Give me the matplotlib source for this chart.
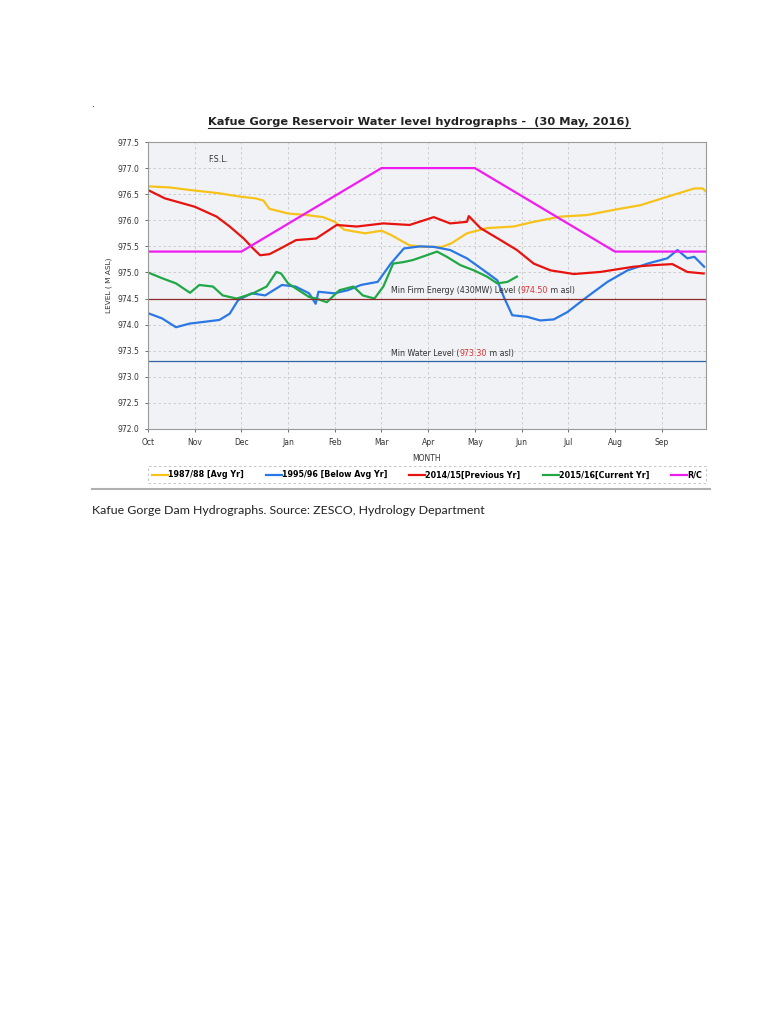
import numpy as np
import matplotlib
matplotlib.use("Agg")
import matplotlib.pyplot as plt
from matplotlib.lines import Line2D

# month index: 0 = Oct ... 11 = Sep
months = ["Oct", "Nov", "Dec", "Jan", "Feb", "Mar", "Apr", "May", "Jun", "Jul", "Aug", "Sep"]
levels = [972.0, 972.5, 973.0, 973.5, 974.0, 974.5, 975.0, 975.5, 976.0, 976.5, 977.0, 977.5]

avg_x = [0.0, 0.45, 0.9, 1.5, 2.0, 2.3, 2.47, 2.6, 3.0, 3.4, 3.75, 4.0, 4.2, 4.45, 4.65, 5.0, 5.2,
         5.4, 5.6, 5.9, 6.3, 6.5, 6.83, 7.26, 7.83, 8.26, 8.83, 9.4, 9.98, 10.55, 11.12, 11.7, 11.88, 11.95]
avg_y = [976.65, 976.63, 976.58, 976.52, 976.45, 976.42, 976.38, 976.22, 976.13, 976.1, 976.06, 975.97,
         975.82, 975.78, 975.75, 975.8, 975.72, 975.62, 975.52, 975.49, 975.49, 975.56, 975.75, 975.85,
         975.88, 975.97, 976.07, 976.1, 976.2, 976.29, 976.45, 976.61, 976.61, 976.55]

below_x = [0.0, 0.3, 0.6, 0.89, 1.17, 1.53, 1.75, 1.93, 2.22, 2.51, 2.87, 3.16, 3.45, 3.59, 3.65, 3.99,
           4.28, 4.56, 4.92, 5.2, 5.48, 5.83, 6.12, 6.47, 6.83, 7.19, 7.48, 7.62, 7.8, 8.12, 8.4, 8.69,
           8.98, 9.4, 9.84, 10.27, 10.7, 11.12, 11.34, 11.55, 11.7, 11.91]
below_y = [974.22, 974.12, 973.95, 974.02, 974.05, 974.09, 974.21, 974.47, 974.6, 974.56, 974.76, 974.73,
           974.6, 974.4, 974.63, 974.6, 974.66, 974.76, 974.82, 975.17, 975.46, 975.5, 975.49, 975.43,
           975.27, 975.04, 974.85, 974.53, 974.18, 974.15, 974.08, 974.1, 974.24, 974.53, 974.82, 975.04,
           975.17, 975.27, 975.43, 975.27, 975.3, 975.11]

prev_x = [0.0, 0.36, 1.0, 1.47, 1.75, 2.05, 2.25, 2.4, 2.6, 2.88, 3.17, 3.6, 4.04, 4.47, 5.04, 5.6,
          6.12, 6.47, 6.83, 6.87, 7.12, 7.55, 7.9, 8.26, 8.62, 9.12, 9.69, 10.4, 10.83, 11.23, 11.55, 11.9]
prev_y = [976.58, 976.42, 976.26, 976.07, 975.88, 975.65, 975.46, 975.33, 975.35, 975.48, 975.62, 975.65,
          975.91, 975.88, 975.94, 975.91, 976.06, 975.94, 975.97, 976.08, 975.85, 975.62, 975.43, 975.17,
          975.04, 974.97, 975.01, 975.11, 975.14, 975.16, 975.01, 974.98]

cur_x = [0.0, 0.3, 0.6, 0.9, 1.1, 1.39, 1.6, 1.9, 2.25, 2.54, 2.75, 2.85, 3.0, 3.45, 3.6, 3.83, 4.1,
         4.4, 4.6, 4.85, 5.04, 5.25, 5.48, 5.68, 5.97, 6.19, 6.4, 6.69, 6.98, 7.26, 7.48, 7.7, 7.9]
cur_y = [975.0, 974.89, 974.79, 974.61, 974.76, 974.73, 974.56, 974.5, 974.6, 974.73, 975.01, 974.98,
         974.79, 974.53, 974.5, 974.43, 974.66, 974.73, 974.56, 974.5, 974.73, 975.17, 975.2, 975.24,
         975.33, 975.4, 975.3, 975.14, 975.04, 974.92, 974.79, 974.82, 974.92]

rc_x = [0.0, 2.0, 5.0, 7.0, 10.0, 11.95]
rc_y = [975.4, 975.4, 977.0, 977.0, 975.4, 975.4]

firm_energy = 974.50
min_water = 973.30

fig = plt.figure(figsize=(7.68, 10.24), dpi=100)
ax = fig.add_axes([148 / 768, 1 - 429 / 1024, 558 / 768, 287 / 1024])
ax.set_facecolor("#f1f2f6")

ax.plot(avg_x, avg_y, color="#f7c21a", lw=1.6, label="1987/88 [Avg Yr]")
ax.plot(below_x, below_y, color="#2a78e4", lw=1.6, label="1995/96 [Below Avg Yr]")
ax.plot(prev_x, prev_y, color="#e8130f", lw=1.6, label="2014/15[Previous Yr]")
ax.plot(cur_x, cur_y, color="#1fa845", lw=1.6, label="2015/16[Current Yr]")
ax.plot(rc_x, rc_y, color="#f01cf0", lw=1.6, label="R/C")

ax.axhline(firm_energy, color="#8c2a2a", lw=0.9)
ax.axhline(min_water, color="#2f63a8", lw=0.9)

fs = 5.7
t1 = ax.text(5.2, firm_energy + 0.06, "Min Firm Energy (430MW) Level (", fontsize=fs, color="#333333", va="bottom")
t2 = ax.annotate(f"{firm_energy:.2f}", xy=(1, 0), xycoords=t1, va="bottom", fontsize=fs, color="#e03030")
ax.annotate(" m asl)", xy=(1, 0), xycoords=t2, va="bottom", fontsize=fs, color="#333333")
t3 = ax.text(5.2, min_water + 0.06, "Min Water Level (", fontsize=fs, color="#333333", va="bottom")
t4 = ax.annotate(f"{min_water:.2f}", xy=(1, 0), xycoords=t3, va="bottom", fontsize=fs, color="#e03030")
ax.annotate(" m asl)", xy=(1, 0), xycoords=t4, va="bottom", fontsize=fs, color="#333333")

ax.text(1.3, 977.16, "F.S.L.", fontsize=5.7, color="#333333", va="center")

ax.set_xlim(0, 11.95)
ax.set_ylim(972.0, 977.5)
ax.set_xticks(range(len(months)))
ax.set_xticklabels(months)
ax.set_yticks(levels)
ax.set_yticklabels([f"{v:.1f}" for v in levels])
ax.tick_params(labelsize=5.5, colors="#555555", length=2.5, width=0.6, labelcolor="#333333", pad=4)
ax.grid(True, color="#c8c8c8", ls=(0, (3, 3)), lw=0.6)
for s in ax.spines.values():
    s.set_color("#9a9a9a")
    s.set_linewidth(0.8)

ax.set_xlabel("MONTH", fontsize=5.5, color="#333333", labelpad=5)
ax.set_ylabel("LEVEL ( M ASL)", fontsize=5.3, color="#333333", labelpad=4)

leg = ax.legend(loc="center", bbox_to_anchor=(0, -0.19, 1, 0.06), mode="expand", ncol=5,
                prop={"weight": "bold", "size": 5.8}, handlelength=2.0, handletextpad=0.0,
                frameon=True, fancybox=False, borderaxespad=0, borderpad=0.5)
leg.get_frame().set_edgecolor("#aaaaaa")
leg.get_frame().set_linestyle((0, (3, 3)))
leg.get_frame().set_linewidth(0.6)

title = fig.text(419 / 768, 1 - 122 / 1024, "Kafue Gorge Reservoir Water level hydrographs -  (30 May, 2016)",
                 ha="center", va="center", fontsize=8.2, fontweight="bold", color="#222222")

# underline the title
fig.canvas.draw()
bb = title.get_window_extent().transformed(fig.transFigure.inverted())
fig.add_artist(Line2D([bb.x0, bb.x1], [bb.y0 - 0.001, bb.y0 - 0.001], transform=fig.transFigure,
                      color="#222222", lw=0.8))

# frame edge of the pasted chart image
fig.add_artist(Line2D([92 / 768, 710 / 768], [1 - 489 / 1024] * 2, transform=fig.transFigure,
                      color="#b0b0b0", lw=1.5))
fig.text(92 / 768, 1 - 104 / 1024, ".", fontsize=7, color="#333333", va="center")

fig.text(92 / 768, 1 - 511 / 1024, "Kafue Gorge Dam Hydrographs. Source: ZESCO, Hydrology Department",
         fontsize=8.9, family="Lato", color="#222222", va="center")

fig.savefig("out.png", dpi=100)
